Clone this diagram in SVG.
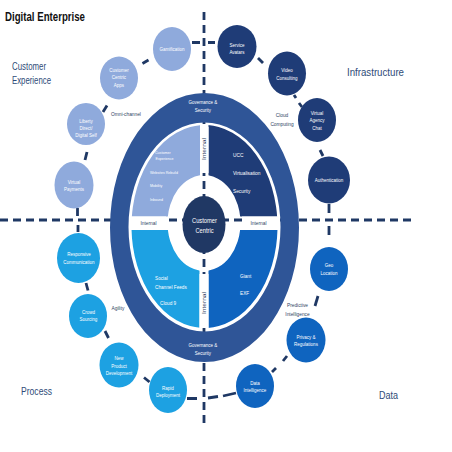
<svg xmlns="http://www.w3.org/2000/svg" width="452" height="452" viewBox="0 0 452 452">
<style>
text{font-family:"Liberation Sans",Arial,sans-serif}
.axis{stroke:#1F3864;stroke-width:2.8;stroke-dasharray:8 5;fill:none}
.cd{stroke:#1F3864;stroke-width:2.8;fill:none}
.big{font-size:11px;fill:#2E4B78}
.lbl{font-size:4.8px;fill:#2F3F5F;text-anchor:middle}
.sat{font-size:4.5px;fill:#fff;text-anchor:middle}
.q{fill:#fff}
.int{font-size:4.8px;fill:#2F3F5F;text-anchor:middle}
.c1{fill:#8FAADC}.c2{fill:#1F3C77}.c3{fill:#1DA1E2}.c4{fill:#0F64BF}
</style>
<defs>
<clipPath id="qUL"><rect x="100" y="100" width="100" height="116.5"/></clipPath>
<clipPath id="qUR"><rect x="208.5" y="100" width="100" height="116.5"/></clipPath>
<clipPath id="qLL"><rect x="100" y="230" width="99.5" height="110"/></clipPath>
<clipPath id="qLR"><rect x="208.5" y="230" width="100" height="110"/></clipPath>
</defs>
<rect width="452" height="452" fill="#fff"/>

<text x="5" y="21" font-size="12.5" font-weight="bold" fill="#111" textLength="80" lengthAdjust="spacingAndGlyphs">Digital Enterprise</text>
<text class="big" x="12" y="70" textLength="34" lengthAdjust="spacingAndGlyphs">Customer</text>
<text class="big" x="12" y="84" textLength="39" lengthAdjust="spacingAndGlyphs">Experience</text>
<text class="big" x="347" y="76" textLength="57" lengthAdjust="spacingAndGlyphs">Infrastructure</text>
<text class="big" x="21" y="395" textLength="31" lengthAdjust="spacingAndGlyphs">Process</text>
<text class="big" x="379" y="399" textLength="19" lengthAdjust="spacingAndGlyphs">Data</text>

<g id="connectors">
<path class="axis" d="M204 12 V426"/>
<path class="axis" d="M0 220 H413"/>
<path class="cd" d="M192 42.5 H200 M208 42.5 H215"/>
<path class="cd" d="M142.5 63.5 L148.5 60"/>
<path class="cd" d="M103 112 L107 105.5"/>
<path class="cd" d="M85 160 L87 152"/>
<path class="cd" d="M77.5 208 V216 M78 225 V232"/>
<path class="cd" d="M86 283 L88 290.5"/>
<path class="cd" d="M105 331 L108.5 338"/>
<path class="cd" d="M144 377.5 L149.5 382"/>
<path class="cd" d="M187 398.5 L197 398.5 M208 398 L218 396.5 M223 396 L236 393"/>
<path class="cd" d="M272 372 L276 368 M283 361 L287 356"/>
<path class="cd" d="M315 306 L318 296"/>
<path class="cd" d="M329 204 V213 M329 226 V235"/>
<path class="cd" d="M320 150 L323 156"/>
<path class="cd" d="M294 95 L296 98 M299 103 L302 107"/>
<path class="cd" d="M258 58 L263 63"/>
</g>

<g id="ring">
<path fill="#2F5597" fill-rule="evenodd" d="M110 227.5 a94.5 134.5 0 1 0 189 0 a94.5 134.5 0 1 0 -189 0 Z M128.5 227 a76 104.5 0 1 0 152 0 a76 104.5 0 1 0 -152 0 Z"/>
<text class="sat" x="203" y="103.5">Governance &amp;</text>
<text class="sat" x="203" y="111.5">Security</text>
<text class="sat" x="203" y="346.5">Governance &amp;</text>
<text class="sat" x="203" y="354.5">Security</text>
</g>

<g id="quadrant-ul">
<path clip-path="url(#qUL)" fill="#8FAADC" fill-rule="evenodd" d="M131.5 226.5 a73 101.5 0 1 0 146 0 a73 101.5 0 1 0 -146 0 Z M167.5 223 a36.5 48 0 1 0 73 0 a36.5 48 0 1 0 -73 0 Z"/>
<g class="q" font-size="3.6">
<text x="155" y="154.3">Customer</text>
<text x="155.5" y="160.3">Experience</text>
<text x="150" y="174.3">Websites Rebuild</text>
<text x="150" y="187.3">Mobility</text>
<text x="150" y="201.3">Inbound</text>
</g>
</g>
<g id="quadrant-ur">
<path clip-path="url(#qUR)" fill="#1F3C77" fill-rule="evenodd" d="M131.5 226.5 a73 101.5 0 1 0 146 0 a73 101.5 0 1 0 -146 0 Z M167.5 223 a36.5 48 0 1 0 73 0 a36.5 48 0 1 0 -73 0 Z"/>
<g class="q" font-size="4.8">
<text x="233" y="156.8">UCC</text>
<text x="233" y="174.8">Virtualisation</text>
<text x="233" y="192.8">Security</text>
</g>
</g>
<g id="quadrant-ll">
<path clip-path="url(#qLL)" fill="#1DA1E2" fill-rule="evenodd" d="M131.5 226.5 a73 101.5 0 1 0 146 0 a73 101.5 0 1 0 -146 0 Z M167.5 223 a36.5 48 0 1 0 73 0 a36.5 48 0 1 0 -73 0 Z"/>
<g class="q" font-size="4.7">
<text x="155" y="279.6">Social</text>
<text x="155" y="288.6">Channel Feeds</text>
<text x="160" y="304.6">Cloud 9</text>
</g>
</g>
<g id="quadrant-lr">
<path clip-path="url(#qLR)" fill="#0F64BF" fill-rule="evenodd" d="M131.5 226.5 a73 101.5 0 1 0 146 0 a73 101.5 0 1 0 -146 0 Z M167.5 223 a36.5 48 0 1 0 73 0 a36.5 48 0 1 0 -73 0 Z"/>
<g class="q" font-size="4.7">
<text x="240" y="277.6">Giant</text>
<text x="240" y="294.6">EXF</text>
</g>
</g>

<g id="internal-labels">
<rect x="129" y="216.5" width="37" height="13" fill="#fff"/>
<rect x="242" y="216.5" width="38" height="13" fill="#fff"/>
<rect x="200" y="127" width="8.5" height="46" fill="#fff"/>
<rect x="199.5" y="274" width="9" height="54" fill="#fff"/>
<text class="int" x="148.5" y="224.6">Internal</text>
<text class="int" x="258.5" y="224.6">Internal</text>
<text class="int" transform="translate(205.8 149) rotate(-90)" textLength="22" lengthAdjust="spacingAndGlyphs">Internal</text>
<text class="int" transform="translate(205.6 303) rotate(-90)" textLength="22" lengthAdjust="spacingAndGlyphs">Internal</text>
</g>

<g id="center">
<ellipse cx="204" cy="224.5" rx="21.5" ry="28.5" fill="#203864"/>
<text x="204.5" y="223" font-size="8" fill="#fff" text-anchor="middle" textLength="25" lengthAdjust="spacingAndGlyphs">Customer</text>
<text x="204.5" y="233" font-size="8" fill="#fff" text-anchor="middle" textLength="18" lengthAdjust="spacingAndGlyphs">Centric</text>
</g>

<text class="lbl" x="126" y="115.7">Omni-channel</text>
<text class="lbl" x="282" y="116.7">Cloud</text>
<text class="lbl" x="282" y="125.7">Computing</text>
<text class="lbl" x="118" y="309.7">Agility</text>
<text class="lbl" x="297.5" y="306.7">Predictive</text>
<text class="lbl" x="297.5" y="315.7">Intelligence</text>

<g id="gamification"><ellipse class="c1" cx="172" cy="49" rx="19" ry="22"/><text class="sat" x="172" y="50.6">Gamification</text></g>
<g id="customer-centric-apps"><ellipse class="c1" cx="119" cy="78" rx="19" ry="21.5"/><text class="sat" x="119" y="71.6">Customer</text><text class="sat" x="119" y="79.1">Centric</text><text class="sat" x="119" y="86.6">Apps</text></g>
<g id="liberty-direct"><ellipse class="c1" cx="86" cy="124" rx="19" ry="21"/><text class="sat" x="86" y="122.6">Liberty</text><text class="sat" x="86" y="129.6">Direct/</text><text class="sat" x="86" y="136.6">Digital Self</text></g>
<g id="virtual-payments"><ellipse class="c1" cx="74" cy="185" rx="19.5" ry="23.5"/><text class="sat" x="74" y="183.6">Virtual</text><text class="sat" x="74" y="190.6">Payments</text></g>

<g id="service-avatars"><ellipse class="c2" cx="237" cy="46.5" rx="19.5" ry="21.5"/><text class="sat" x="237" y="46.6">Service</text><text class="sat" x="237" y="54">Avatars</text></g>
<g id="video-consulting"><ellipse class="c2" cx="287" cy="73.5" rx="19" ry="22"/><text class="sat" x="287" y="71.6">Video</text><text class="sat" x="287" y="79.6">Consulting</text></g>
<g id="virtual-agency-chat"><ellipse class="c2" cx="317" cy="120" rx="19" ry="22"/><text class="sat" x="317" y="114.6">Virtual</text><text class="sat" x="317" y="122.1">Agency</text><text class="sat" x="317" y="129.6">Chat</text></g>
<g id="authentication"><ellipse class="c2" cx="329" cy="180" rx="21" ry="23.5"/><text class="sat" x="329" y="181.6">Authentication</text></g>

<g id="responsive-communication"><ellipse class="c3" cx="78.5" cy="258" rx="21.5" ry="25"/><text class="sat" x="79" y="255.6">Responsive</text><text class="sat" x="79" y="263.6">Communication</text></g>
<g id="crowd-sourcing"><ellipse class="c3" cx="88" cy="316" rx="19" ry="22"/><text class="sat" x="88.5" y="313.6">Crowd</text><text class="sat" x="88.5" y="320.6">Sourcing</text></g>
<g id="new-product-development"><ellipse class="c3" cx="119" cy="365" rx="19.5" ry="22.5"/><text class="sat" x="119" y="359.6">New</text><text class="sat" x="119" y="367.6">Product</text><text class="sat" x="119" y="374.6">Development</text></g>
<g id="rapid-deployment"><ellipse class="c3" cx="168" cy="390" rx="19" ry="23"/><text class="sat" x="168" y="389.6">Rapid</text><text class="sat" x="168" y="396.6">Deployment</text></g>

<g id="geo-location"><ellipse class="c4" cx="329" cy="269" rx="19" ry="22"/><text class="sat" x="329" y="266.6">Geo</text><text class="sat" x="329" y="274.6">Location</text></g>
<g id="privacy-regulations"><ellipse class="c4" cx="306" cy="340" rx="19.5" ry="22.5"/><text class="sat" x="306" y="339.1">Privacy &amp;</text><text class="sat" x="306" y="346.1">Regulations</text></g>
<g id="data-intelligence"><ellipse class="c4" cx="255" cy="386" rx="19" ry="22"/><text class="sat" x="255" y="384.6">Data</text><text class="sat" x="255" y="391.6">Intelligence</text></g>
</svg>
